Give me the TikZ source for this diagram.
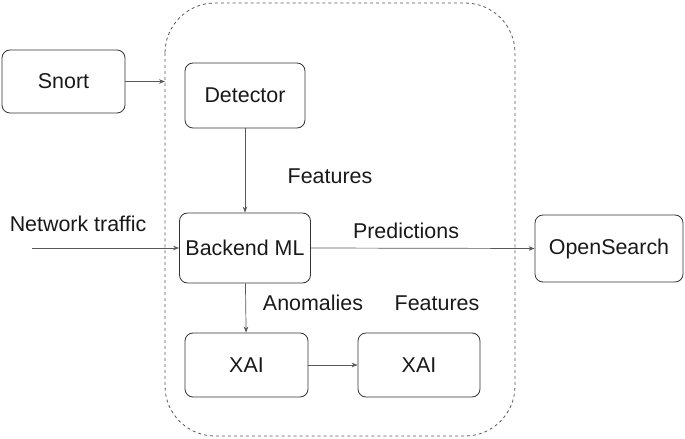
\documentclass[tikz,border=0pt]{standalone}
\usepackage{fontspec}
\setmainfont{Liberation Sans}
\usetikzlibrary{arrows.meta}
\begin{document}
\begin{tikzpicture}[x=1bp,y=-1bp,
  box/.style={draw=black!80,rounded corners=8bp,line width=0.8bp,inner sep=0},
  lbl/.style={font=\fontsize{21.5}{25}\selectfont,text=black!90},
  conn/.style={draw=black!65,line width=0.7bp,-{Stealth[length=6bp,width=4.5bp]}}]
\useasboundingbox (0,0) rectangle (685,439);
\draw[dashed,draw=black!65,line width=0.8bp,rounded corners=50bp] (165,3) rectangle (515,436);
\node[box,minimum width=123bp,minimum height=63bp,lbl] (snort) at (63.5,81.5) {Snort};
\node[box,minimum width=120bp,minimum height=65bp,lbl] (det) at (245,95.5) {Detector};
\node[box,minimum width=131bp,minimum height=70bp,lbl] (ml) at (245,248) {Backend ML};
\node[box,minimum width=123bp,minimum height=64bp,lbl] (x1) at (246.5,365) {XAI};
\node[box,minimum width=122bp,minimum height=64bp,lbl] (x2) at (419,365) {XAI};
\node[box,minimum width=148bp,minimum height=67bp,lbl] (os) at (609,248.5) {OpenSearch};
\coordinate (cin) at (165,81.5);
\coordinate (nt) at (32,248);
\draw[conn] (snort.east) -- (cin);
\draw[conn] (det) -- (ml);
\draw[conn] (nt) -- (ml.west);
\draw[conn] (ml.east) -- (os.west);
\draw[conn] (ml) -- (x1);
\draw[conn] (x1) -- (x2);
\node[lbl] (lf1) at (330,176) {Features};
\node[lbl] (lnt) at (78,224) {Network traffic};
\node[lbl] (lp) at (406,231) {Predictions};
\node[lbl] (la) at (313,303) {Anomalies};
\node[lbl] (lf2) at (437,303) {Features};
\end{tikzpicture}
\end{document}
